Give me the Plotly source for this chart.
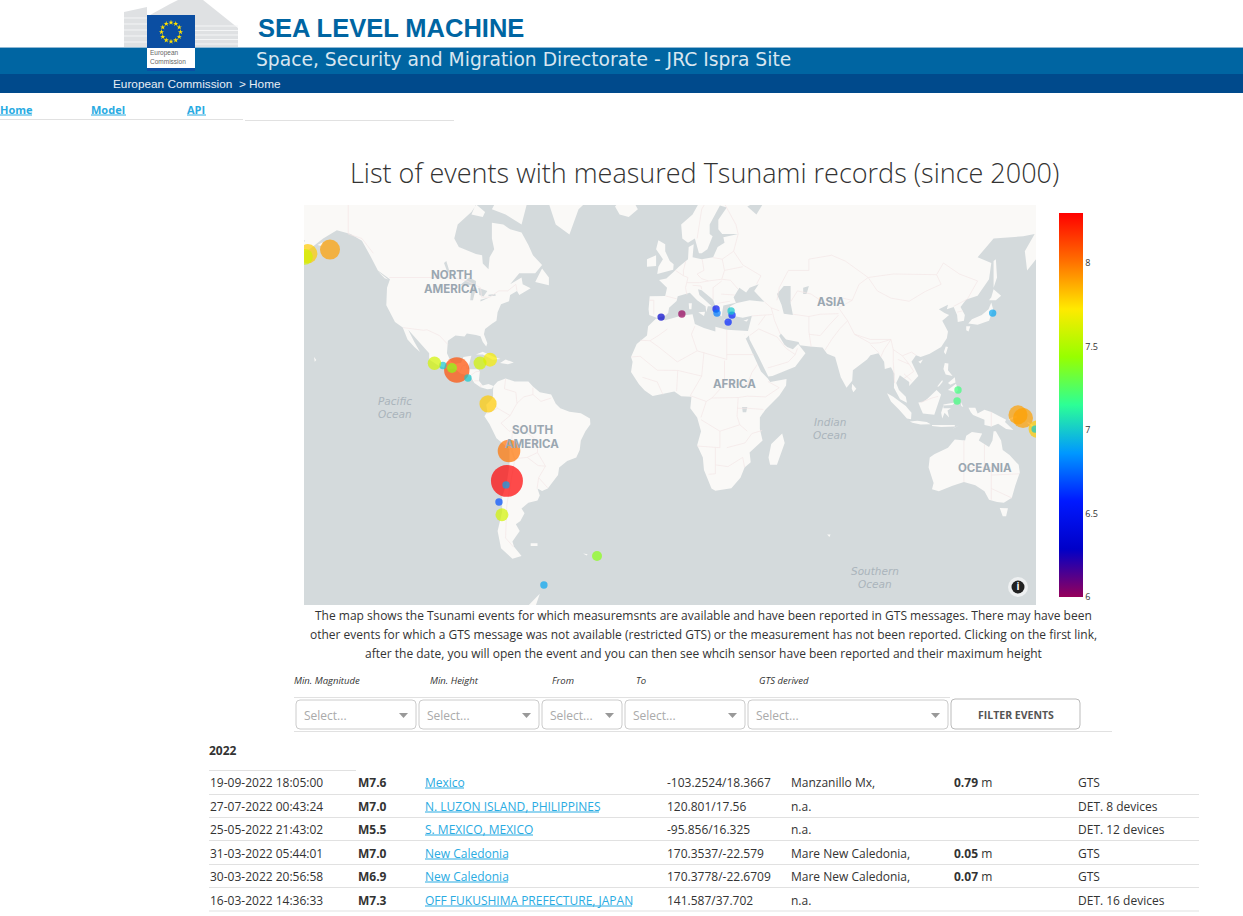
import math
import plotly.graph_objects as go

# events on the map, oldest first
lon = [-70.5, -71.4, -79.7, 152.7, 154.9, 161.1, -73.6, 20.3, -3.8, 27.3, -93.4, -71.8, -149.0, -88.5, 20.7, -78.8, 26.9, -83.2, -95.5, -158.7, -160.0, 25.6, -74.9, 126.4, 126.0, 5.3, -31.9, -55.2, -99.5, 160.2, 141.6, -103.2]
lat = [-19.4, -31.2, 0.9, -3.9, -5.3, -10.1, -43.0, 39.1, 36.3, 37.0, 15.6, -32.7, 56.4, 12.2, 37.7, 19.9, 38.4, 18.5, 16.4, 55.4, 54.6, 34.5, -38.8, 7.0, 2.2, 37.4, -54.8, -61.5, 17.5, -10.1, 37.7, 18.4]
magnitude = [8.0, 8.3, 7.8, 7.9, 7.9, 7.8, 7.6, 6.5, 6.3, 6.6, 8.1, 6.9, 7.9, 7.0, 6.8, 7.7, 7.0, 7.6, 7.4, 7.8, 7.6, 6.6, 6.7, 7.2, 7.2, 6.0, 7.4, 6.9, 7.0, 7.0, 6.9, 7.6]
height_m = [2.25, 4.5, 1.3, 1.6, 1.76, 1.3, 0.74, 0.1, 0.1, 0.1, 2.84, 0.1, 1.76, 0.1, 0.1, 0.86, 0.1, 0.74, 0.44, 1.6, 1.1, 0.1, 0.1, 0.1, 0.1, 0.1, 0.44, 0.1, 0.1, 0.1, 0.1, 0.79]

# table rows
row_dates = ["19-09-2022 18:05:00", "27-07-2022 00:43:24", "25-05-2022 21:43:02", "31-03-2022 05:44:01", "30-03-2022 20:56:58", "16-03-2022 14:36:33"]
row_mags = ["M7.6", "M7.0", "M5.5", "M7.0", "M6.9", "M7.3"]
row_names = ["Mexico", "N. LUZON ISLAND, PHILIPPINES", "S. MEXICO, MEXICO", "New Caledonia", "New Caledonia", "OFF FUKUSHIMA PREFECTURE, JAPAN"]
row_coords = ["-103.2524/18.3667", "120.801/17.56", "-95.856/16.325", "170.3537/-22.579", "170.3778/-22.6709", "141.587/37.702"]
row_places = ["Manzanillo Mx,", "n.a.", "n.a.", "Mare New Caledonia,", "Mare New Caledonia,", "n.a."]
row_heights = ["0.79", "", "", "0.05", "0.07", ""]
row_sources = ["GTS", "DET. 8 devices", "DET. 12 devices", "GTS", "GTS", "DET. 16 devices"]

# rough world outline, the page has no network for real map tiles (lon, lat)
lands = [
    [(-168,65.6),(-166,68.5),(-156,71.3),(-141,69.7),(-128,70),(-115,68),(-108,68),(-95,68),(-94,72),(-88,68),(-82,67.5),(-87,64.5),(-93,62),(-94.5,59),(-92.5,57),(-85,55.3),(-82.3,55),(-82,52.9),(-79.5,51.3),(-79,54.5),(-77,56.5),(-78,59),(-78,62.4),(-73,62),(-70,61),(-65,60.3),(-62,57.5),(-60,55),(-56,52.5),(-59,50.2),(-66,50.2),(-70,47),(-65,49),(-64.5,47),(-61,45.8),(-66,43.7),(-67,45),(-70,43.7),(-70.5,41.7),(-74,40.7),(-75.5,38),(-76,35),(-78,33.9),(-81,32),(-81.5,30),(-80,26.5),(-80.5,25.2),(-82,27),(-83,29.2),(-85,29.7),(-89,30.3),(-90,29.1),(-94,29.5),(-97.3,27.5),(-97.7,22.5),(-96,19),(-94,18.2),(-91.5,18.6),(-90.5,21),(-87,21.5),(-88,18),(-88.7,15.9),(-84,15.9),(-83.3,14.9),(-83.7,11),(-82,9),(-79.5,9.6),(-77.3,8.7),(-78,7.5),(-80,7.3),(-83,8.2),(-85.7,10),(-87.5,13),(-91.5,14),(-94.5,16.2),(-97,15.9),(-101.5,17.5),(-105.5,20),(-105.5,22.5),(-109,26),(-112.8,30),(-114.7,31.7),(-112,27),(-109.5,23),(-112,25),(-115,28),(-117.1,32.5),(-120.5,34.5),(-124.3,40.4),(-124,46),(-122.7,48.5),(-128,51),(-131,54.5),(-135,58.5),(-140,60),(-146,60.8),(-152,59),(-158,56.5),(-164,54.7),(-160,58.5),(-165,61),(-165,63.5),(-161,64.5)],
    [(-44,59.9),(-50,62),(-53,66),(-54,70),(-30,70),(-22,70),(-32,68),(-40,65)],
    [(-65,62),(-72,64),(-78,65),(-74,68),(-62,67)],
    [(-87,64),(-82,63.5),(-81,64.5),(-85,65.9)],
    [(-59,47.7),(-53,46.7),(-53,49),(-56,51.5)],
    [(-128,50.8),(-123.5,48.4),(-125,48.8)],
    [(-154.5,57.5),(-152.5,57.2),(-152,58.2)],
    [(-24,65.5),(-22,64),(-18,63.5),(-14,65),(-16,66.5),(-22,66.5)],
    [(-85,22),(-82,23.1),(-77,21),(-74.2,20.2),(-77.7,19.9),(-82,22)],
    [(-74.4,18.5),(-72,20),(-68.4,18.7),(-71,18)],
    [(-156,21),(-155,19.8),(-155.7,19)],
    [(-77.3,8.7),(-75.5,10.7),(-72,12),(-68,10.7),(-62,10.7),(-60,8.5),(-57,6),(-52,5),(-50,1),(-48,-1),(-44,-2.5),(-39,-3.2),(-35,-5.5),(-34.8,-8),(-37,-11),(-39,-15),(-39.5,-19),(-41,-22),(-45,-23.5),(-48.5,-26),(-49,-29),(-53.5,-34),(-56,-34.9),(-58,-34),(-57,-36.5),(-58,-38.3),(-62,-39),(-65,-41),(-63.7,-42.5),(-65.5,-45),(-67.5,-46),(-65.8,-48),(-69,-51),(-68.3,-52.4),(-65,-54.8),(-69,-55.5),(-74,-52.8),(-75.5,-48),(-73.5,-42),(-73.5,-37),(-71.5,-32),(-70.3,-25),(-70.3,-18.5),(-76,-14),(-79,-8),(-81.3,-4.5),(-80,-2.5),(-80.5,0.5),(-78.5,2.5),(-77.5,4),(-77.5,7)],
    [(-61,-51.5),(-58,-51.5),(-58,-52.2),(-61,-52.2)],
    [(-38,-54.2),(-36,-54.4),(-36.5,-54.7)],
    [(-57,-63.3),(-62,-65.5),(-68,-67),(-60,-67)],
    [(-6,35.8),(-2,35.2),(5,36.8),(10,37.3),(11,33.8),(15,32.3),(20,31),(20,32.8),(25,31.7),(32,31.2),(34.3,31.2),(32.5,29.9),(34,27),(36,23.5),(37.2,21),(38.5,18),(40,15),(43,12),(44,10.5),(51.2,11.8),(51,9),(48,4.5),(42,-1.5),(39.5,-5),(39.5,-10),(40.7,-15),(35,-20),(35.5,-24),(32.8,-26),(31,-30),(27,-33.9),(20,-34.8),(18.3,-34),(15,-27),(14.5,-22),(12,-17),(13.7,-11),(12,-5),(9,-1),(9.5,4),(5,4.3),(2,6.3),(-4,5.2),(-7.5,4.4),(-11,6.8),(-13.5,9.5),(-17,14.7),(-16.3,19),(-17,21),(-14.5,26.2),(-10,29.5),(-9.5,33)],
    [(49.3,-12),(50.4,-16),(47,-25),(44,-25),(43.3,-22),(44.5,-16.5)],
    [(-5.5,36),(-9,37),(-9.3,39),(-8.8,43.3),(-2,43.4),(-1.2,46),(-4.7,48.3),(-1.5,48.7),(1.5,50.5),(4,52),(8,54),(8.3,57),(10.5,57.7),(10,54.5),(14,54),(19,54.5),(21,57),(24,58),(23.5,59.3),(30,60),(23,60),(21.3,61),(21.3,63),(25,65.3),(22,65.7),(17.5,62),(17.5,60),(18.8,59.5),(16.5,56.5),(14,55.5),(12.8,55.5),(11,59),(8,58),(5.5,59),(5,62),(10,64),(14,67),(20,70),(28,71),(41,67),(34,65.5),(38,64),(44,68),(60,69),(68,68.5),(70,73),(80,73),(105,77),(113,74),(130,71),(140,72.5),(160,69.5),(170,70),(180,69),(180,65),(177,62.5),(170,60),(163,59.5),(162,55),(156.7,51),(155.7,56),(160,60),(155,59.5),(142,59),(135,54.5),(141,53),(140,48.5),(135,43.5),(130,42.3),(127.5,39.8),(129.4,37),(129,35),(126.3,34.5),(126,37),(124.5,39.8),(121.5,39),(122,40.5),(118,39),(120.5,37.7),(122.5,37),(119.5,35),(122,31),(121.5,28.5),(119,25),(114,22.3),(110,21),(108,21.7),(106,19),(109,13),(106.7,10.5),(105,8.7),(105,10.5),(102.5,12.2),(100.9,13.4),(99.3,10),(100.5,7),(103.5,4),(104,1.4),(101,3),(98.3,8),(98.5,14),(97,16.7),(94.3,16),(94,19),(91.5,22.5),(88,21.7),(86.5,20),(80.3,15.5),(80,11),(77.5,8),(75,12.5),(73,19),(72.5,21),(69,22.3),(67,24.8),(61.5,25.2),(57,25.7),(56.5,27),(51,28),(48.7,30.3),(48,29.3),(50.2,26),(51.5,25),(54,24.1),(56.3,26.2),(59.5,22.5),(55,17),(45,13),(43.2,12.8),(39,21),(35,28),(34.7,29.5),(33,28),(32.6,30),(32.3,31.2),(34.3,31.2),(35.8,35.5),(36,36.8),(32,36.1),(28,36.7),(26.3,38.5),(26.5,40),(29,41),(35,42),(41.5,41.5),(37,45),(39,47),(35,46),(33.5,44.5),(30.5,46),(28,43),(29,41.2),(26,40.7),(23.5,40.3),(23,38),(22.8,36.5),(21.2,37.5),(19.5,41),(19,42.2),(14,45.2),(12.4,45.5),(13,43.7),(16,41.7),(18.4,40),(16.7,40),(16,38),(15.7,40),(12,42),(8.8,44.4),(3.5,43.3),(3,41.8),(-0.3,39.5),(-0.7,37.7),(-2,36.8)],
    [(-5.5,50),(1.5,51.2),(1.7,52.7),(0,53.5),(-2,56),(-2,57.7),(-5,58.6),(-6,56.5),(-3,54),(-5,52)],
    [(-10,52),(-6,52.2),(-6,55),(-10,54)],
    [(12.5,38),(15.5,38.2),(15,36.7)],
    [(8.3,41),(9.7,41),(9.5,39),(8.5,39)],
    [(23.6,35.5),(26.3,35.2),(24.5,34.9)],
    [(32.3,35),(34.5,35.6),(33.8,34.7)],
    [(130.9,34),(135,33.5),(140,35),(141.8,39),(141,41.3),(139.8,39),(136.8,37),(132.5,35.5)],
    [(130,33),(131.8,33),(131,31),(130,31.5)],
    [(140,42),(143,42),(145.3,43.5),(142,45.5),(141,43)],
    [(142,46),(143.5,49),(143,54),(142,53.5),(142,49)],
    [(120.2,23),(121,22),(122,25),(121,25.2)],
    [(109,19),(111,20),(110,18.3)],
    [(80,9.7),(81.8,7.5),(80.5,6),(79.8,7.5)],
    [(120,16),(120.6,18.5),(122.2,18.3),(122,15.5),(124,13),(121,13.7)],
    [(122,7),(125.5,9.7),(126.5,7),(125.4,5.7),(124,6.5)],
    [(122,10),(125,12.5),(125.3,10.3),(123,9.3)],
    [(117.3,8.5),(119.5,11.3),(119.7,10.6),(118,8.5)],
    [(109,1.5),(111,1.8),(113,3.2),(115,5),(117,7),(119,5),(117.7,1),(116,-3.8),(111,-3.3),(110,-1)],
    [(95.3,5.6),(98,4),(103.5,0),(106,-3),(105.8,-5.8),(104,-5.5),(100.5,-1.5),(97,2)],
    [(105.3,-6.8),(108.5,-6.5),(112.7,-7),(114.4,-8),(110,-8.1),(106.4,-7.3)],
    [(115,-8.3),(119,-8.3),(125,-8.3),(125,-9),(119,-9.2),(115,-8.8)],
    [(123.7,-10.2),(127,-8.4),(125,-9.4)],
    [(119.5,-5.5),(120.5,-3),(122.5,-5),(121.8,-2),(123.3,-1),(120,-1),(120,0.7),(125,1.5),(124,0.4),(120,0.2),(119,-3)],
    [(127.7,1.8),(128.7,-0.5),(127.8,0)],
    [(131,-0.8),(134,-0.8),(135,-3.3),(138,-1.7),(141,-2.6),(145,-4.5),(147.5,-6),(147,-7),(150.7,-10.5),(147.5,-10),(144,-7.8),(141,-9),(138,-8.3),(138,-6),(133,-4),(132,-2.8)],
    [(148.5,-5.7),(152,-4.2),(152.2,-5),(149,-6.3)],
    [(157,-7),(161,-9.5),(160.5,-10),(156.8,-7.5)],
    [(114,-22),(113.5,-26),(115.7,-32),(115,-34.3),(118,-35),(124,-33),(129,-31.6),(134,-32.8),(138,-35),(140,-38),(143.5,-38.8),(146.5,-39),(150,-37.3),(151.5,-33),(153.5,-28),(153,-25),(149,-21),(146,-19),(145.3,-15),(143,-11),(142,-11),(141.5,-15),(140,-17.7),(135.5,-15),(137,-12),(132.5,-11.3),(130,-13),(129.5,-15),(125,-14.5),(122,-18),(116,-20.7)],
    [(144.7,-40.8),(148.3,-40.9),(147.5,-43.5),(146,-43.5)],
    [(69,-49),(70.5,-49),(70,-49.7)],
]
waters = [
    [(50,46.5),(53,46.5),(53,41),(54,37),(50,37.5),(49,40.5),(47,44)],
    [(-92,46.7),(-85,46.7),(-85,48),(-88,49)],
    [(-87.5,42),(-86.3,42),(-85,46),(-87,45.8)],
    [(-84,46),(-80,45),(-81.7,43.2),(-83.5,43.7)],
    [(-83,41.6),(-79,42.8),(-79,43),(-83,42.2)],
    [(-79.5,43.3),(-76.3,43.5),(-76.5,44),(-79.5,43.8)],
    [(-97.5,50.5),(-96.5,50.5),(-98,53.5),(-99,53)],
    [(31.7,-0.5),(34,-0.5),(33.5,-2.8),(32,-2.8)],
    [(58.5,46),(61,46.5),(60,44),(58.5,44)],
]
borders = [
    [(-123,49),(-95,49),(-89,48),(-83,46),(-82.5,43),(-79,43),(-75,45),(-71,45),(-67.5,47),(-67,45)],
    [(-141,69),(-141,60),(-135,59),(-130,55.5)],
    [(-117,32.5),(-108,31.5),(-106.5,31.7),(-101,29.5),(-97.3,26)],
    [(-92.2,14.5),(-91,17.2),(-89.2,17.9),(-88.9,15.9)], [(-89.4,14),(-87.7,13)], [(-87.7,13),(-85,14.9),(-83.3,15)], [(-85.7,11),(-83.7,11)], [(-83,8.2),(-82.7,9.5)],
    [(-72,11.8),(-72.5,7.5),(-67.5,6),(-67,1.2)], [(-60,8),(-60,5),(-56.5,2),(-52,3.5)], [(-60,5),(-64,4),(-67,1.2)],
    [(-67,1.2),(-70,-4.2),(-74,-7.5),(-70.5,-11),(-65.3,-10),(-60,-13.5),(-58,-16.3),(-58,-20),(-54.5,-25.5),(-57.5,-30),(-53.5,-33.8)],
    [(-70,-18),(-68,-23),(-70,-33),(-71.5,-40),(-72,-50),(-68.5,-52.5)], [(-80.3,-3.4),(-75.5,-1),(-77,1)], [(-75.5,-1),(-70,-4.2)],
    [(-69,-11),(-69.5,-17.5),(-68,-22.5),(-62.5,-22),(-58,-20)], [(-62.5,-22),(-57.7,-25.3),(-54.5,-25.5)], [(-57.5,-30),(-58.2,-34)],
    [(-1,32),(-5,29.5),(-8.7,27.5),(-4.8,25),(3.3,19),(12,23.5),(9.5,30),(11,33)], [(-8.7,27.5),(-13,27.7)], [(12,23.5),(25,20),(25,31.7)], [(25,22),(36.8,22)],
    [(24,19.5),(24,9.5),(34,9.5),(36,14.5),(38.5,18)], [(-17,21),(-13,21.3),(-5.5,15.5),(3.5,15.4),(14,13),(15,23)], [(14,13),(9,4.5)], [(3,6.5),(3.5,15.4)],
    [(-12,12.5),(-5.5,10.5),(-3,5)], [(9,4.5),(16,2),(18.5,3.5),(24,9.5)], [(16,2),(13.7,-5)], [(18.5,3.5),(30,3.7),(34,4.3),(42,4),(48,8),(43,10.7)],
    [(30,3.7),(29.5,-4.5),(30.7,-8.2),(22,-11),(13.7,-6)], [(22,-11),(22,-18),(12,-17.3)], [(20,-18),(20,-28.5),(17,-28.7)], [(25,-18),(33,-16),(36,-12),(40.5,-10.7)],
    [(30.7,-8.2),(34,-11)], [(29.5,-1),(34,-1),(41,-1.5)], [(32,-22),(32.8,-26)], [(20,-25),(25.5,-25.7),(32,-22)],
    [(-9,42),(-7,42),(-7,37.2)], [(-1.8,43.4),(3,42.5)], [(2.5,51),(6,49.5),(8,49),(7.5,47.5),(6.9,46),(7.5,43.8)], [(6,49.5),(6,51),(7,53.5)],
    [(14.2,54),(15,51),(12,50),(13.8,48.7),(17,48),(22.8,48.5),(24,51),(23,54),(19,54.4)], [(7.5,47.5),(10,47.5),(13,47.5),(17,48)], [(10,46.7),(13.7,46.5),(14,45.5)],
    [(22.8,48.5),(26.6,48.2),(30,45.5)], [(22.8,48),(19,46),(19,42.2)], [(22.5,44),(28.5,43.7)], [(21,41),(26.4,41.7)], [(23,54),(28,56),(30,60)],
    [(28,56),(32,52.5),(40,49.5),(38,47)], [(24,51),(32,52)], [(12,59),(14,65),(20,69),(28,70)], [(24,66),(29,62),(30,60)],
    [(47,42),(48,46),(52,51),(61,51),(61,54),(71,55),(77,53.5),(87,49),(98,50),(107,50),(117,49.8),(120,53),(127,50),(135,48),(131,43),(130.5,42.4)],
    [(87,49),(91,45),(97,42.7),(105,41.7),(112,44.8),(119,47),(117,49.8)], [(80,42),(74,39.5),(78,35),(81,30),(88,28),(97,28),(98,24),(102,21.5),(106,23),(108,21.7)],
    [(53,41.5),(56,45),(62,44),(68,41),(74,43),(80,42)], [(80,42),(83,47),(87,49)], [(44.5,39.5),(48,38.5)], [(44.5,39.5),(46,35),(48.5,30)], [(54,37.3),(61,36.5),(61,31),(62,25.2)],
    [(61,36.5),(66,37.3),(74,37.5)], [(61,30),(66,29.5),(70,33.5),(74,37)], [(68,23.7),(71,28),(74.5,32),(78,35)], [(81,30),(88,26.5),(92,26.7),(97,28)], [(88,26),(92,22.5)],
    [(92.5,21),(94,24),(97,28)], [(98,24),(98,19),(98.6,10)], [(100,20),(105,18),(107,15),(102.7,12)], [(102,21.5),(105,18)], [(106,11),(102.7,14)],
    [(36,36.7),(44.8,37.2)], [(38.8,33.4),(42,37)], [(35,29.5),(39,32),(47,29),(51,24.5),(55,22),(52,19),(45,17),(43,16.5)], [(55,22),(56,24.5)], [(124.5,40),(130.5,42.4)], [(126,38),(128.5,38.5)],
    [(41.5,41.5),(44.5,39.5)], [(129,-15),(129,-31.6)], [(129,-26),(141,-26),(141,-38)], [(138,-16.5),(138,-26)], [(141,-29),(153.3,-28.5)], [(141,-34),(150,-37.4)], [(141,-2.6),(141,-9)], [(110,1.5),(115,3.5),(117.7,4.2)],
]

W, H = 1243, 916
BODY = "Open Sans"
LINK = "#29abe2"
shapes = []
notes = []


def merc(la):
    return math.asinh(math.tan(math.radians(la)))


def unroll(parts):
    xs, ys = [], []
    for part in parts:
        xs += [p[0] for p in part] + [None]
        ys += [merc(p[1]) for p in part] + [None]
    return xs, ys


def text(x, y, s, size=12, color="#333333", font=BODY, anchor="left", weight=None, style=None):
    notes.append(dict(x=x, y=y, xref="x", yref="y", text=s, showarrow=False, xanchor=anchor, yanchor="middle",
                      xshift=-2 if anchor == "left" else 0,
                      font=dict(family=font, size=size, color=color, weight=weight, style=style)))


def rect(x0, y0, x1, y1, fill, layer="above"):
    shapes.append(dict(type="rect", xref="x", yref="y", x0=x0, y0=y0, x1=x1, y1=y1, fillcolor=fill, line=dict(width=0), layer=layer))


def hline(x0, x1, y, color="#e1e1e1", width=1, layer="above"):
    shapes.append(dict(type="line", xref="x", yref="y", x0=x0, x1=x1, y0=y, y1=y, line=dict(color=color, width=width), layer=layer))


def poly(points, fill):
    path = "M" + " L".join(f"{a},{b}" for a, b in points) + " Z"
    shapes.append(dict(type="path", xref="x", yref="y", path=path, fillcolor=fill, line=dict(width=0), layer="below"))


def rounded(x0, y0, x1, y1, r=4, line="#cccccc"):
    path = (f"M{x0+r},{y0} L{x1-r},{y0} Q{x1},{y0} {x1},{y0+r} L{x1},{y1-r} Q{x1},{y1} {x1-r},{y1} "
            f"L{x0+r},{y1} Q{x0},{y1} {x0},{y1-r} L{x0},{y0+r} Q{x0},{y0} {x0+r},{y0} Z")
    shapes.append(dict(type="path", xref="x", yref="y", path=path, fillcolor="white", line=dict(color=line, width=1), layer="above"))


# map background
rect(304, 205, 1036, 605, "#d4dadc", "below")

# header
rect(0, 48, W, 74, "#0065a2", "below")
rect(0, 74, W, 93, "#004a8c", "below")
hline(0, W, 47.5, "#8fb8d4", layer="below")
poly([(124, 12), (147, 7), (147, 47), (124, 47)], "#dfe1e3")
poly([(150, 15), (170, 4), (178, 0), (203, 0), (238, 28), (238, 47), (195, 47), (195, 15)], "#dfe1e3")
for i in range(5):
    hline(124, 147, 18 + i * 6, "#f4f5f6", layer="below")
    hline(195, 238, 26 + i * 4.5, "#f4f5f6", layer="below")
rect(147, 15, 195, 48, "#0b4ea2", "below")
rect(147, 48, 195, 68, "#ffffff", "below")
rect(147, 68, 195, 71, "#0b4ea2", "below")
text(150, 53, "European", 6.5, "#666666", "Liberation Sans")
text(150, 61, "Commission", 6.5, "#666666", "Liberation Sans")
text(258, 28, "<b>SEA LEVEL MACHINE</b>", 25.5, "#0065a2", "Liberation Sans")
text(256, 59, "Space, Security and Migration Directorate - JRC Ispra Site", 18.7, "#d8e6f0", "DejaVu Sans")
text(113, 84, "European Commission  &gt; Home", 11.8, "#e8eef5", "Liberation Sans")

# nav
for x, w, s in [(0, 32, "Home"), (91, 35, "Model"), (187, 19, "API")]:
    text(x, 109, f"<b>{s}</b>", 11, LINK)
    hline(x, x + w, 115, LINK)
hline(0, 243, 119.5)
hline(245, 454, 120.5)

text(704, 172.5, "List of events with measured Tsunami records (since 2000)", 27, "#333333", BODY, "center", 300)

# paragraph
para = ["The map shows the Tsunami events for which measuremsnts are available and have been reported in GTS messages. There may have been",
        "other events for which a GTS message was not available (restricted GTS) or the measurement has not been reported. Clicking on the first link,",
        "after the date, you will open the event and you can then see whcih sensor have been reported and their maximum height"]
for i, s in enumerate(para):
    text(703.5, 615 + i * 19, s, 12, "#333333", BODY, "center")

# filters
for x, s in [(294, "Min. Magnitude"), (430, "Min. Height"), (552, "From"), (636, "To"), (759, "GTS derived")]:
    text(x, 680, s, 9.5, "#333333", BODY, style="italic")
hline(294, 950, 697.5)
for x0, x1 in [(296, 416), (419, 539), (542, 622), (625, 745), (748, 948)]:
    rounded(x0, 700, x1, 729)
    text(x0 + 8, 715, "Select...", 12, "#aaaaaa")
    shapes.append(dict(type="path", xref="x", yref="y", path=f"M{x1-17},713 L{x1-8},713 L{x1-12.5},718 Z",
                       fillcolor="#999999", line=dict(width=0), layer="above"))
rounded(951, 699, 1080, 729, line="#bbbbbb")
text(1015.5, 715, "<b>FILTER EVENTS</b>", 10.5, "#555555", BODY, "center")
hline(294, 1112, 731.5)

# table
text(209, 750, "<b>2022</b>", 12, "#333333")
hline(209, 356, 770.5)
link_w = [39, 174, 108, 83, 83, 207]
for i in range(6):
    y = [782, 806, 829, 853, 876, 900][i]
    text(210, y, row_dates[i], 12)
    text(358, y, f"<b>{row_mags[i]}</b>", 12)
    text(425, y, row_names[i], 12, LINK)
    hline(425, 425 + link_w[i], y + 6, LINK)
    text(667, y, row_coords[i], 12)
    text(791, y, row_places[i], 12)
    if row_heights[i]:
        text(954, y, f"<b>{row_heights[i]}</b> m", 12)
    text(1078, y, row_sources[i], 12)
    hline(209, 1199, [794.5, 817.5, 840.5, 864.5, 887.5, 911][i])

# map labels
MAPLBL = "#9aa7b1"
for x, y, s in [(451, 275, "NORTH"), (451, 289, "AMERICA"), (532, 430, "SOUTH"), (532, 444, "AMERICA"), (831, 302, "ASIA"), (734, 384, "AFRICA"), (985, 468, "OCEANIA")]:
    text(x, y, f"<b>{s}</b>", 11.5, MAPLBL, "Inter", "center")
for x, y, s in [(395, 400.5, "Pacific"), (395, 413.5, "Ocean"), (830, 421.5, "Indian"), (830, 434.5, "Ocean"), (875, 570.5, "Southern"), (875, 583.5, "Ocean")]:
    text(x, y, s, 10.5, "#aab4bb", "DejaVu Sans", "center", style="italic")

stars_x = [171 + 9.5 * math.sin(i * math.pi / 6) for i in range(12)]
stars_y = [32 - 9.5 * math.cos(i * math.pi / 6) for i in range(12)]

land_x, land_y = unroll(lands)
water_x, water_y = unroll(waters)
border_x, border_y = unroll(borders)

fig = go.Figure()
fig.add_trace(go.Scatter(x=stars_x, y=stars_y, mode="markers", marker=dict(symbol="star", size=4, color="#ffe000"), showlegend=False))
# info button of the map
fig.add_trace(go.Scatter(x=[1018], y=[587], mode="markers", marker=dict(size=20, color="rgba(255,255,255,0.6)"), showlegend=False))
fig.add_trace(go.Scatter(x=[1018], y=[587], mode="markers+text", text=["<b>i</b>"], textposition="middle center",
                         textfont=dict(color="white", size=10), marker=dict(size=13, color="#222222"), showlegend=False))
fig.add_trace(go.Scatter(x=land_x, y=land_y, mode="lines", fill="toself", fillcolor="#faf9f7", line=dict(width=0), xaxis="x2", yaxis="y2", showlegend=False))
fig.add_trace(go.Scatter(x=water_x, y=water_y, mode="lines", fill="toself", fillcolor="#d4dadc", line=dict(width=0), xaxis="x2", yaxis="y2", showlegend=False))
fig.add_trace(go.Scatter(x=border_x, y=border_y, mode="lines", line=dict(width=0.7, color="#f3e6e6"), xaxis="x2", yaxis="y2", showlegend=False))
fig.add_trace(go.Scatter(
    x=lon, y=[merc(v) for v in lat], mode="markers", xaxis="x2", yaxis="y2", showlegend=False,
    marker=dict(size=height_m, sizemode="area", sizeref=1 / 113.5, sizemin=3.7, color=magnitude, colorscale="Rainbow",
                cmin=6, cmax=8.3, opacity=0.7, line=dict(width=0),
                colorbar=dict(x=1059 / W, xanchor="left", xpad=0, ypad=0, y=1 - 213 / H, yanchor="top", lenmode="pixels", len=384,
                              thickness=24, thicknessmode="pixels", outlinewidth=0, ticks="", tickvals=[6, 6.5, 7, 7.5, 8],
                              ticktext=["6", "6.5", "7", "7.5", "8"], tickfont=dict(size=9, color="#333333", family=BODY)))))

fig.update_layout(
    width=W, height=H, autosize=False, margin=dict(l=0, r=0, t=0, b=0), paper_bgcolor="white", plot_bgcolor="rgba(0,0,0,0)",
    xaxis=dict(range=[0, W], visible=False, domain=[0, 1], fixedrange=True),
    yaxis=dict(range=[H, 0], visible=False, domain=[0, 1], fixedrange=True),
    xaxis2=dict(range=[-160.4, 160.6], visible=False, domain=[304 / W, 1036 / W], anchor="y2", fixedrange=True),
    yaxis2=dict(range=[-1.524, 1.539], visible=False, domain=[1 - 605 / H, 1 - 205 / H], anchor="x2", fixedrange=True),
    shapes=shapes, annotations=notes)

# page default margin would shift the whole page by 8px
fig.write_html("out.html", config={"displayModeBar": False}, post_script="document.body.style.margin='0';")
